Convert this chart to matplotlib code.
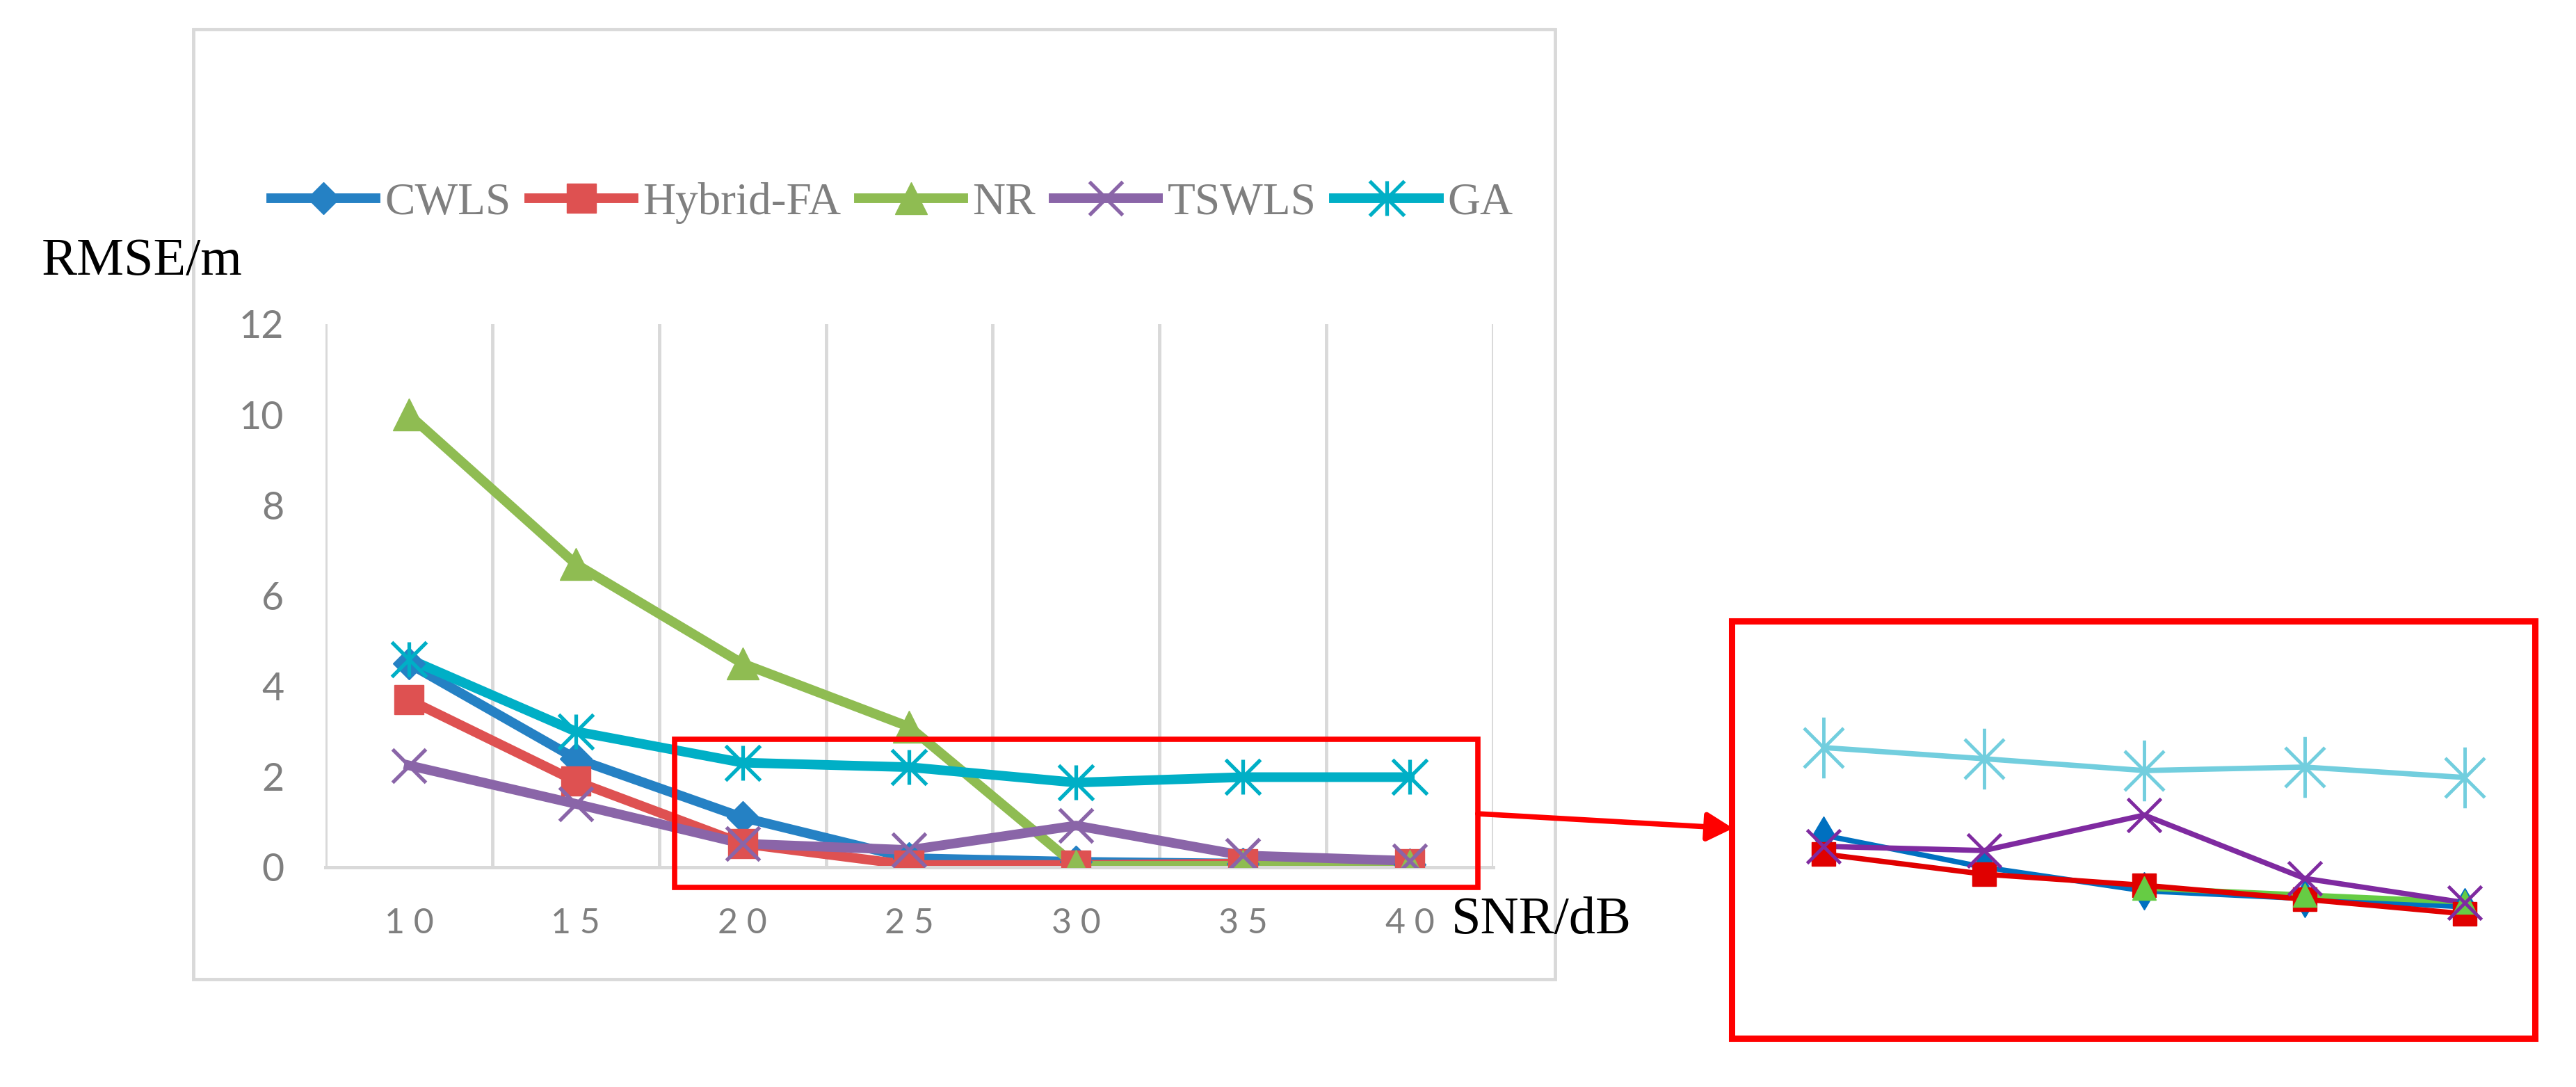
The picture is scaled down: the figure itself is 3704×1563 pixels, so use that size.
import numpy as np
import matplotlib
matplotlib.use("Agg")
import matplotlib.pyplot as plt
from matplotlib.path import Path
from matplotlib.lines import Line2D
from matplotlib.patches import Rectangle, FancyArrowPatch

# -- data --
snr = [10, 15, 20, 25, 30, 35, 40]
cwls = [4.5, 2.4, 1.1, 0.2, 0.12, 0.08, 0.06]
hybrid = [3.7, 1.9, 0.52, 0.05, 0.05, 0.08, 0.08]
nr = [10.0, 6.7, 4.5, 3.1, 0.03, 0.03, 0.03]
tswls = [2.25, 1.4, 0.52, 0.38, 0.92, 0.26, 0.14]
ga = [4.6, 3.0, 2.31, 2.21, 1.87, 1.99, 1.99]
yticks = [0, 2, 4, 6, 8, 10, 12]

# zoomed view (own arbitrary scale, 20..40 dB)
zoom_snr = [20, 25, 30, 35, 40]
zoom_ga = [4.18, 4.02, 3.85, 3.90, 3.75]
zoom_tswls = [2.76, 2.70, 3.21, 2.30, 1.95]
zoom_cwls = [2.92, 2.46, 2.12, 2.01, 1.89]
zoom_hybrid = [2.65, 2.36, 2.20, 2.00, 1.79]
zoom_nr = [None, None, 2.16, 2.06, 1.96]

names = ["CWLS", "Hybrid-FA", "NR", "TSWLS", "GA"]
colors = ["#2581C4", "#DE5151", "#8FBC52", "#8A65A8", "#00AFC6"]
zoom_colors = ["#0070C0", "#E00000", "#66CC44", "#7F2AA0", "#72CEDE"]


def asterisk(w, h):
    verts = [(0, -1), (0, 1), (-w, -h), (w, h), (-w, h), (w, -h)]
    codes = [Path.MOVETO, Path.LINETO] * 3
    return Path(verts, codes)


def is_stroke(m):
    return m == "x" or not isinstance(m, str)


fig = plt.figure(figsize=(37.05, 15.63), dpi=100)

# -- outer chart frame --
fig.patches.append(Rectangle((0.0750, 0.0992), 0.5285, 0.8740, transform=fig.transFigure,
                             fill=False, edgecolor="#D9D9D9", lw=3.5))

# -- main chart --
ax = fig.add_axes([0.1263, 0.2022, 0.4532, 0.4997])
x = np.arange(len(snr))
markers = ["D", "s", "^", "x", asterisk(1, 1)]
sizes = [23, 30, 33, 35, 36]
series = [cwls, hybrid, nr, tswls, ga]

# lines first, markers on top (Excel draws it that way)
handles = []
for name, vals, c, m, ms in zip(names, series, colors, markers, sizes):
    ax.plot(x, vals, color=c, lw=10, solid_joinstyle="round", zorder=2)
    mew = 3.8 if is_stroke(m) else 1
    ax.plot(x, vals, ls="none", marker=m, ms=ms, mec=c, mfc=c, mew=mew, zorder=3)
    handles.append(Line2D([], [], color=c, lw=10, marker=m, ms=ms, mec=c, mfc=c, mew=mew,
                          label=name))

ax.set_xlim(-0.5, len(snr) - 0.5)
ax.set_ylim(0, 12)
ax.set_yticks(yticks)
ax.set_xticks(x)
ax.set_xticklabels([" ".join(str(s)) for s in snr])
ax.set_xticks(np.arange(-0.5, len(snr)), minor=True)
ax.grid(which="minor", axis="x", color="#D9D9D9", lw=3.5)
ax.tick_params(which="both", length=0)
ax.tick_params(axis="y", pad=43, labelsize=40, labelcolor="#7F7F7F")
ax.tick_params(axis="x", pad=42, labelsize=36, labelcolor="#7F7F7F")
for lab in ax.get_xticklabels() + ax.get_yticklabels():
    lab.set_family(["Lato", "DejaVu Sans"])
for s in ["top", "left", "right"]:
    ax.spines[s].set_visible(False)
ax.spines["bottom"].set_color("#D9D9D9")
ax.spines["bottom"].set_linewidth(3.6)
ax.set_axisbelow(True)

leg = fig.legend(handles=handles, loc="center", bbox_to_anchor=(0.3463, 0.8132), ncol=5,
                 frameon=False, prop={"family": "Liberation Serif", "size": 47},
                 handlelength=2.3, handletextpad=0.2, columnspacing=0.4, numpoints=1)
for t in leg.get_texts():
    t.set_color("#7F7F7F")

fig.text(60 / 3705, 1 - 395 / 1563, "RMSE/m", family="Liberation Serif", fontsize=55,
         ha="left", va="baseline")
fig.text(2087 / 3705, 1 - 1342 / 1563, "SNR/dB", family="Liberation Serif", fontsize=55,
         ha="left", va="baseline")

# -- red highlight and arrow --
fig.patches.append(Rectangle((0.2618, 0.1836), 0.3117, 0.1363, transform=fig.transFigure,
                             fill=False, edgecolor="#FF0000", lw=5.5))
fig.patches.append(FancyArrowPatch((0.5735, 0.2514), (0.6726, 0.2380), transform=fig.transFigure,
                                   arrowstyle="-|>,head_length=0.45,head_width=0.25",
                                   mutation_scale=50, color="#FF0000", lw=5.5,
                                   shrinkA=0, shrinkB=0))

# -- zoomed inset --
axz = fig.add_axes([0.6721, 0.0448, 0.3117, 0.3839])
zx = np.arange(len(zoom_snr))
zoom_series = [zoom_cwls, zoom_hybrid, zoom_nr, zoom_tswls, zoom_ga]
zoom_markers = ["d", "s", "^", "x", asterisk(0.65, 0.65)]
zoom_sizes = [27, 25, 25, 35, 63]
line_z = [3, 5, 4, 6, 2]
mark_z = [7, 8, 9, 10, 11]
for vals, c, m, ms, lz, mz in zip(zoom_series, zoom_colors, zoom_markers, zoom_sizes, line_z, mark_z):
    v = np.array([np.nan if val is None else val for val in vals], dtype=float)
    axz.plot(zx, v, color=c, lw=5.5, zorder=lz)
    axz.plot(zx, v, ls="none", marker=m, ms=ms, mec=c, mfc=c,
             mew=3.5 if is_stroke(m) else 1, zorder=mz)
axz.set_xlim(-0.573, 4.438)
axz.set_ylim(0, 6)
axz.set_xticks([])
axz.set_yticks([])
for s in axz.spines.values():
    s.set_color("#FF0000")
    s.set_linewidth(6.5)
    s.set_zorder(12)

fig.savefig("out.png", dpi=100)
